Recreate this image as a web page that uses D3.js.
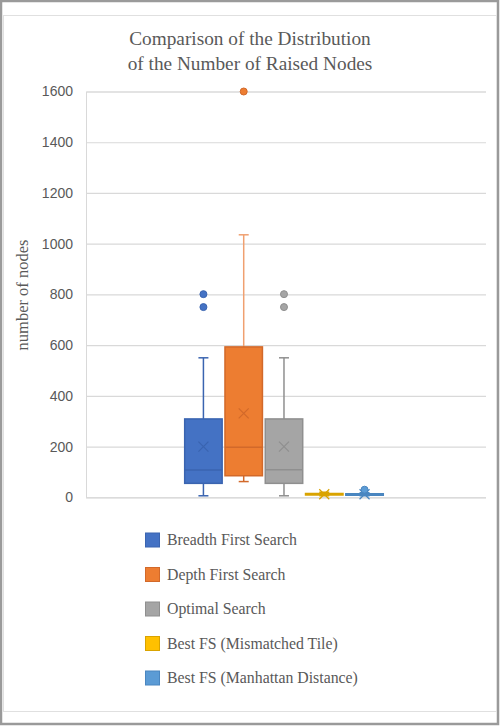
<!DOCTYPE html>
<html>
<head>
<meta charset="utf-8">
<script src="https://cdn.jsdelivr.net/npm/d3@7"></script>
<style>
  body { margin: 0; background: #fff; }
  svg { display: block; }
</style>
</head>
<body>
<svg id="chart" width="500" height="727"></svg>
<script>
// series in legend order
const seriesNames = ['Breadth First Search', 'Depth First Search', 'Optimal Search',
  'Best FS (Mismatched Tile)', 'Best FS (Manhattan Distance)'];
const fillColors = ['#4472c4', '#ed7d31', '#a5a5a5', '#ffc000', '#5b9bd5'];
const darkColors = ['#3a64b0', '#d2692a', '#8f8f8f', '#d9a300', '#4a86c0'];

// five-number summaries
const minValues = [6, 62, 6, 6, 6];
const q1Values = [55, 85, 55, 10, 9];
const medianValues = [108, 197, 109, 12, 11];
const q3Values = [309, 593, 309, 15, 14];
const maxValues = [550, 1035, 550, 20, 18];
const meanValues = [200, 331, 200, 12, 12];
const outlierValues = [[750, 801], [1600], [750, 801], [], [30]];

const yTicks = [0, 200, 400, 600, 800, 1000, 1200, 1400, 1600];

const svg = d3.select('#chart');
const plotLeft = 86, plotRight = 486, plotTop = 91.5, plotBottom = 497.3;

// frame
svg.append('rect').attr('x', 1).attr('y', 1).attr('width', 497).attr('height', 723)
  .attr('fill', 'none').attr('stroke', '#9a9a9a').attr('stroke-width', 2.5);
svg.append('rect').attr('x', 3.5).attr('y', 15.5).attr('width', 493).attr('height', 696)
  .attr('fill', 'none').attr('stroke', '#e0e0e0').attr('stroke-width', 1);

const y = d3.scaleLinear().domain([0, 1600]).range([plotBottom, plotTop]);
const x = d3.scaleBand().domain(seriesNames).range([plotLeft, plotRight])
  .paddingInner(0.07).paddingOuter(2.5).align(0.49);

// gridlines + tick labels
const yAxis = d3.axisLeft(y).tickValues(yTicks).tickFormat(d3.format('d'))
  .tickSize(-(plotRight - plotLeft)).tickPadding(13);
const gAxis = svg.append('g').attr('transform', `translate(${plotLeft},0)`).call(yAxis);
gAxis.select('.domain').attr('stroke', '#d9d9d9');
gAxis.selectAll('.tick line').attr('stroke', '#d9d9d9').attr('stroke-width', 1.2);
gAxis.selectAll('.tick text').attr('fill', '#595959')
  .style('font-family', 'Liberation Sans, Arial, sans-serif').style('font-size', '14px');

// title
svg.append('text').attr('x', 250).attr('y', 45).attr('text-anchor', 'middle')
  .attr('fill', '#595959').style('font-family', 'Liberation Serif, Times New Roman, serif')
  .style('font-size', '19.3px')
  .selectAll('tspan').data(['Comparison of the Distribution', 'of the Number of Raised Nodes'])
  .join('tspan').attr('x', 250).attr('dy', (d, i) => i ? 24.5 : 0).text(d => d);

// y axis title
svg.append('text').attr('transform', 'translate(28,295) rotate(-90)')
  .attr('text-anchor', 'middle').attr('fill', '#595959')
  .style('font-family', 'Liberation Serif, Times New Roman, serif').style('font-size', '16.5px')
  .text('number of nodes');

// boxes
const boxes = svg.append('g');
seriesNames.forEach((name, i) => {
  const g = boxes.append('g');
  const bw = x.bandwidth();
  const x0 = x(name), cx = x0 + bw / 2;
  const cap = 10;
  const whiskerColor = i === 1 ? '#f0a070' : darkColors[i];

  // whiskers
  g.append('line').attr('x1', cx).attr('x2', cx).attr('y1', y(q3Values[i])).attr('y2', y(maxValues[i]))
    .attr('stroke', whiskerColor).attr('stroke-width', 1.5);
  g.append('line').attr('x1', cx).attr('x2', cx).attr('y1', y(q1Values[i])).attr('y2', y(minValues[i]))
    .attr('stroke', darkColors[i]).attr('stroke-width', 1.5);
  [maxValues[i], minValues[i]].forEach(v => {
    g.append('line').attr('x1', cx - cap / 2).attr('x2', cx + cap / 2).attr('y1', y(v)).attr('y2', y(v))
      .attr('stroke', v === maxValues[i] ? whiskerColor : darkColors[i]).attr('stroke-width', 1.5);
  });

  // box
  g.append('rect').attr('x', x0).attr('width', bw)
    .attr('y', y(q3Values[i])).attr('height', Math.max(1.5, y(q1Values[i]) - y(q3Values[i])))
    .attr('fill', fillColors[i]).attr('stroke', darkColors[i]).attr('stroke-width', 1.5);

  // median
  g.append('line').attr('x1', x0).attr('x2', x0 + bw)
    .attr('y1', y(medianValues[i])).attr('y2', y(medianValues[i]))
    .attr('stroke', darkColors[i]).attr('stroke-width', 1.5);

  // mean marker
  const my = y(meanValues[i]), s = 5;
  g.append('path').attr('d', `M${cx - s},${my - s}L${cx + s},${my + s}M${cx - s},${my + s}L${cx + s},${my - s}`)
    .attr('stroke', darkColors[i]).attr('stroke-width', 1.2).attr('fill', 'none');

  // outliers
  g.selectAll('circle').data(outlierValues[i]).join('circle')
    .attr('cx', cx).attr('cy', d => y(d)).attr('r', 3.5)
    .attr('fill', fillColors[i]).attr('stroke', darkColors[i]).attr('stroke-width', 1);
});

// legend
const legend = svg.append('g');
const ly = d3.scalePoint().domain(seriesNames).range([540, 678]);
seriesNames.forEach((name, i) => {
  legend.append('rect').attr('x', 145.5).attr('y', ly(name) - 7).attr('width', 14).attr('height', 14)
    .attr('fill', fillColors[i]).attr('stroke', darkColors[i]).attr('stroke-width', 1);
  legend.append('text').attr('x', 167).attr('y', ly(name) + 5).attr('fill', '#595959')
    .style('font-family', 'Liberation Serif, Times New Roman, serif').style('font-size', '15.8px')
    .text(name);
});
</script>
</body>
</html>
